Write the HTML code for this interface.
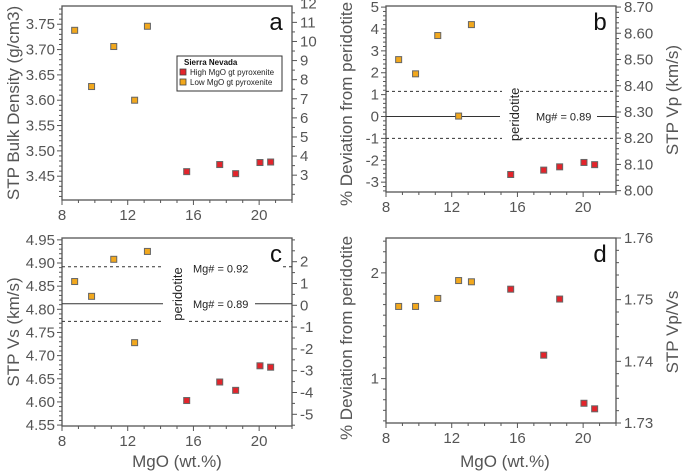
<!DOCTYPE html>
<html><head><meta charset="utf-8"><style>
html,body{margin:0;padding:0;background:#fff;}
svg{display:block;font-family:"Liberation Sans",Arial,sans-serif;}
</style></head><body>
<svg id="fig" width="685" height="472" viewBox="0 0 685 472" xmlns="http://www.w3.org/2000/svg"></svg>
<script>
const mgo = [8.77, 9.8, 11.15, 12.42, 13.2, 15.59, 17.6, 18.57, 20.05, 20.7];
const group = ['low','low','low','low','low','high','high','high','high','high'];
const density = [3.738, 3.627, 3.706, 3.600, 3.746, 3.459, 3.473, 3.455, 3.477, 3.478];
const vpDev = [2.6, 1.95, 3.7, 0.02, 4.2, -2.65, -2.45, -2.3, -2.1, -2.2];
const vs = [4.86, 4.828, 4.908, 4.728, 4.925, 4.603, 4.643, 4.625, 4.678, 4.675];
const vpvs = [1.7489, 1.7489, 1.7502, 1.7531, 1.7529, 1.7517, 1.7410, 1.7501, 1.7332, 1.7323];
const xTicks = [8, 12, 16, 20];

const NS = 'http://www.w3.org/2000/svg';
const svg = document.getElementById('fig');
function el(tag, attrs, parent, text){
  const e = document.createElementNS(NS, tag);
  for (const k in attrs) e.setAttribute(k, attrs[k]);
  if (text !== undefined) e.textContent = text;
  (parent || svg).appendChild(e);
  return e;
}
const AX = '#555', TXT = '#555';
const COL = {low:'#f2a81d', high:'#e3242b'};

function panel(o){
  const g = el('g', {});
  
  
  const X = v => o.L + (v - 8) / 14 * (o.R - o.L);
  const YL = v => o.B - (v - o.yl[0]) / (o.yl[1] - o.yl[0]) * (o.B - o.T);
  const YR = v => o.B - (v - o.yr[0]) / (o.yr[1] - o.yr[0]) * (o.B - o.T);
  const frame = el('rect', {x:o.L, y:o.T, width:o.R-o.L, height:o.B-o.T, fill:'none', stroke:AX, 'stroke-width':1.3}, g);
  
  
  for (let v = 8; v <= 22; v++){
    const major = xTicks.includes(v);
    el('line', {x1:X(v), x2:X(v), y1:o.B, y2:o.B + (major?5:3), stroke:AX, 'stroke-width':1}, g);
  }
  xTicks.forEach(v => {
    const t = el('text', {x:X(v), y:o.B+20, 'text-anchor':'middle', 'font-size':15, fill:TXT}, g, String(v));
    
    
  });
  for (let v = o.ylMinor[0]; v <= o.yl[1] + 1e-9; v += o.ylMinor[1]){
    const vv = Math.round(v*1e6)/1e6;
    if (vv < o.yl[0]) continue;
    const major = o.ylMajor.some(m => Math.abs(m - vv) < 1e-6);
    el('line', {x1:o.L - (major?5:3), x2:o.L, y1:YL(vv), y2:YL(vv), stroke:AX, 'stroke-width':1}, g);
  }
  o.ylMajor.forEach((v,i) => {
    const t = el('text', {x:o.L-7, y:YL(v)+5, 'text-anchor':'end', 'font-size':15, fill:TXT}, g, o.ylLabels[i]);
    
    
  });
  for (let v = o.yrMinor[0]; v <= o.yr[1] + 1e-9; v += o.yrMinor[1]){
    const vv = Math.round(v*1e6)/1e6;
    if (vv < o.yr[0]) continue;
    const major = o.yrMajor.some(m => Math.abs(m - vv) < 1e-6);
    el('line', {x1:o.R, x2:o.R + (major?5:3), y1:YR(vv), y2:YR(vv), stroke:AX, 'stroke-width':1}, g);
  }
  o.yrMajor.forEach((v,i) => {
    const t = el('text', {x:o.R+8, y:YR(v)+5, 'text-anchor':'start', 'font-size':15, fill:TXT}, g, o.yrLabels[i]);
    
    
  });
  const lt = el('text', {x:o.R-16, y:o.T+24, 'text-anchor':'middle', 'font-size':24, fill:'#111'}, g, o.id);
  
  
  if (o.extra) o.extra(g, X, YL, YR);
  o.vals.forEach((v,i) => {
    const Y = o.useRight ? YR : YL;
    const r = el('rect', {x:X(mgo[i])-3, y:Y(v)-3, width:6, height:6, fill:COL[group[i]], stroke:'#666', 'stroke-width':1}, g);
    
    
  });
}

function hline(g, x1, x2, y, dashed, name){
  const l = el('line', {x1:x1, x2:x2, y1:y, y2:y, stroke:'#333', 'stroke-width':1, 'stroke-dasharray': dashed ? '3,3' : 'none'}, g);
  
  
}
function label(g, x, y, txt, name, size, anchor, rot){
  const t = el('text', {x:x, y:y, 'text-anchor':anchor||'start', 'font-size':size||11, fill:'#222'}, g, txt);
  if (rot) t.setAttribute('transform', 'rotate(-90 ' + x + ' ' + y + ')');
  
  
  return t;
}

panel({id:'a', L:62, R:292, T:6, B:200, yl:[3.403,3.786], ylMajor:[3.45,3.5,3.55,3.6,3.65,3.7,3.75],
  ylLabels:['3.45','3.50','3.55','3.60','3.65','3.70','3.75'], ylMinor:[3.41,0.01],
  yr:[1.7,1.7+(194/19.1)+0], yrMajor:[3,4,5,6,7,8,9,10,11,12], yrLabels:['3','4','5','6','7','8','9','10','11','12'], yrMinor:[2,0.5],
  vals:density,
  extra:(g)=>{
    const lg = el('g', {}, g);
    
    
    el('rect', {x:177, y:56, width:105, height:35, fill:'#fff', stroke:'#333', 'stroke-width':1}, lg);
    const tt = el('text', {x:184, y:65, 'font-size':8, 'font-weight':'bold', fill:'#111'}, lg, 'Sierra Nevada');
    
    
    [['high','High MgO gt pyroxenite',75],['low','Low MgO gt pyroxenite',85]].forEach(e => {
      const m = el('rect', {x:180, y:e[2]-6, width:6, height:6, fill:COL[e[0]], stroke:'#444', 'stroke-width':0.8}, lg);
      
      
      const t = el('text', {x:190, y:e[2], 'font-size':8, fill:'#222'}, lg, e[1]);
      
      
    });
  }});

panel({id:'b', L:386, R:616, T:6, B:192, yl:[-3.45,5.05], ylMajor:[-3,-2,-1,0,1,2,3,4,5],
  ylLabels:['-3','-2','-1','0','1','2','3','4','5'], ylMinor:[-3.4,0.2],
  yr:[7.995,8.704], yrMajor:[8.0,8.1,8.2,8.3,8.4,8.5,8.6,8.7], yrLabels:['8.00','8.10','8.20','8.30','8.40','8.50','8.60','8.70'], yrMinor:[8.0,0.02],
  vals:vpDev,
  extra:(g,X,YL)=>{
    hline(g,386,502,YL(1.15),true,'upper-bound-dashed');
    hline(g,520,616,YL(1.15),true,'upper-bound-dashed');
    hline(g,386,502,YL(-1.0),true,'lower-bound-dashed');
    hline(g,520,616,YL(-1.0),true,'lower-bound-dashed');
    hline(g,386,500,YL(0),false,'reference-line');
    hline(g,597,616,YL(0),false,'reference-line');
    label(g,536,YL(0)+4,'Mg# = 0.89','mg-number-label',11);
    label(g,519,YL(0.1),'peridotite','peridotite-label',13,'middle',true);
  }});

panel({id:'c', L:62, R:292, T:238, B:426, yl:[4.548,4.954], ylMajor:[4.55,4.6,4.65,4.7,4.75,4.8,4.85,4.9,4.95],
  ylLabels:['4.55','4.60','4.65','4.70','4.75','4.80','4.85','4.90','4.95'], ylMinor:[4.55,0.01],
  yr:[-5.0-(426-414.3)/21.8, 2+(261.7-238)/21.8], yrMajor:[-5,-4,-3,-2,-1,0,1,2], yrLabels:['-5','-4','-3','-2','-1','0','1','2'], yrMinor:[-5.5,0.5],
  vals:vs,
  extra:(g,X,YL)=>{
    hline(g,62,162,YL(4.892),true,'mg092-dashed');
    hline(g,283,292,YL(4.892),true,'mg092-dashed');
    hline(g,62,163,YL(4.812),false,'mg089-line');
    hline(g,255,292,YL(4.812),false,'mg089-line');
    hline(g,62,162,YL(4.774),true,'lower-bound-dashed');
    hline(g,189,292,YL(4.774),true,'lower-bound-dashed');
    label(g,193,YL(4.892)+6,'Mg# = 0.92','mg092-label',11);
    label(g,193,YL(4.812)+4,'Mg# = 0.89','mg089-label',11);
    label(g,182,294,'peridotite','peridotite-label',13,'middle',true);
  }});

panel({id:'d', L:386, R:616, T:238, B:423, yl:[0.58,2.33], ylMajor:[1,2], ylLabels:['1','2'], ylMinor:[0.6,0.1],
  yr:[1.73,1.76], yrMajor:[1.73,1.74,1.75,1.76], yrLabels:['1.73','1.74','1.75','1.76'], yrMinor:[1.73,0.002],
  vals:vpvs, useRight:true});

function title(x,y,txt,name,rot){
  const t = el('text', {x:x, y:y, 'text-anchor':'middle', 'font-size':17, fill:TXT}, svg, txt);
  if (rot) t.setAttribute('transform','rotate(-90 '+x+' '+y+')');
  
  
}
title(19,103,'STP Bulk Density (g/cm3)','y-axis-title-density',true);
title(352,104,'% Deviation from peridotite','y-axis-title-deviation-top',true);
title(678,100,'STP Vp (km/s)','y-axis-title-vp',true);
title(19,332,'STP Vs (km/s)','y-axis-title-vs',true);
title(352,338,'% Deviation from peridotite','y-axis-title-deviation-bottom',true);
title(678,332,'STP Vp/Vs','y-axis-title-vpvs',true);
title(177,467,'MgO (wt.%)','x-axis-title-left');
title(505,467,'MgO (wt.%)','x-axis-title-right');
</script>
</body></html>
